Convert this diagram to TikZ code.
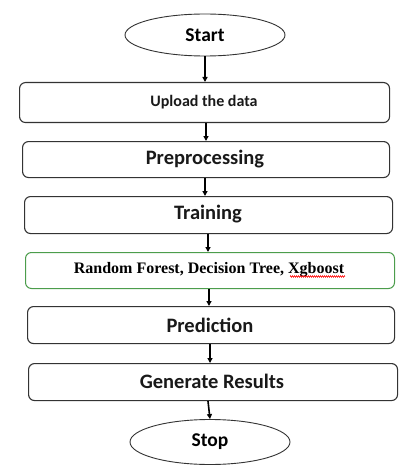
\documentclass[tikz,border=0pt]{standalone}
\usepackage{fontspec}
\setmainfont{Carlito}
\newfontfamily\timesfont{Liberation Serif}
\usetikzlibrary{shapes.geometric,arrows.meta,decorations.pathmorphing}
\begin{document}
\begin{tikzpicture}[x=1pt,y=-1pt,
  stepbox/.style={draw=black!80,line width=1.1pt,rounded corners=6pt,anchor=north west,inner sep=0pt},
  term/.style={draw=black!80,line width=0.9pt,ellipse,inner sep=0pt,font=\fontsize{19.5}{22}\selectfont\bfseries},
  lbl/.style={font=\fontsize{20.5}{23}\selectfont\bfseries,text=black!90},
  conn/.style={-{Triangle[length=5pt,width=5pt]},line width=1.6pt,black}]
\useasboundingbox (0,0) rectangle (416,476);
\node[term,minimum width=160pt,minimum height=42pt] (start) at (205,35) {Start};
\node[stepbox,minimum width=370pt,minimum height=40pt] (upload) at (19,82) {};
\node[lbl,font=\fontsize{16}{18}\selectfont\bfseries] (tupload) at (204,102) {Upload the data};
\node[stepbox,minimum width=367pt,minimum height=36pt] (pre) at (22,141) {};
\node[lbl] (tpre) at (205,159) {Preprocessing};
\node[stepbox,minimum width=368pt,minimum height=37pt] (train) at (24,196) {};
\node[lbl] (ttrain) at (208,214) {Training};
\node[stepbox,draw=green!45!black!70,line width=1pt,minimum width=369pt,minimum height=36pt] (rf) at (25,252) {};
\node[font=\timesfont\fontsize{16}{18}\selectfont\bfseries] (trf) at (209,270) {Random Forest, Decision Tree, Xgboost};
\coordinate (sq1) at (290,276.5);
\coordinate (sq2) at (345,276.5);
\draw[red,line width=0.5pt,decorate,decoration={zigzag,segment length=2pt,amplitude=0.8pt}] (sq1) -- (sq2);
\node[stepbox,minimum width=367pt,minimum height=37pt] (pred) at (27,306) {};
\node[lbl] (tpred) at (210,325) {Prediction};
\node[stepbox,minimum width=369pt,minimum height=37pt] (gen) at (28,363) {};
\node[lbl] (tgen) at (212,381) {Generate Results};
\node[term,minimum width=160pt,minimum height=45pt] (stop) at (210,442) {Stop};
\draw[conn] (start.south) -- (start.south |- upload.north);
\draw[conn] ([xshift=2pt]tupload |- upload.south) -- ([xshift=2pt]tupload |- pre.north);
\draw[conn] (tpre |- pre.south) -- (tpre |- train.north);
\draw[conn] (ttrain |- train.south) -- (ttrain |- rf.north);
\draw[conn] (trf |- rf.south) -- (trf |- pred.north);
\draw[conn] (tpred |- pred.south) -- (tpred |- gen.north);
\draw[conn] ([xshift=-4pt]tgen |- gen.south) -- (stop.north);
\end{tikzpicture}
\end{document}
